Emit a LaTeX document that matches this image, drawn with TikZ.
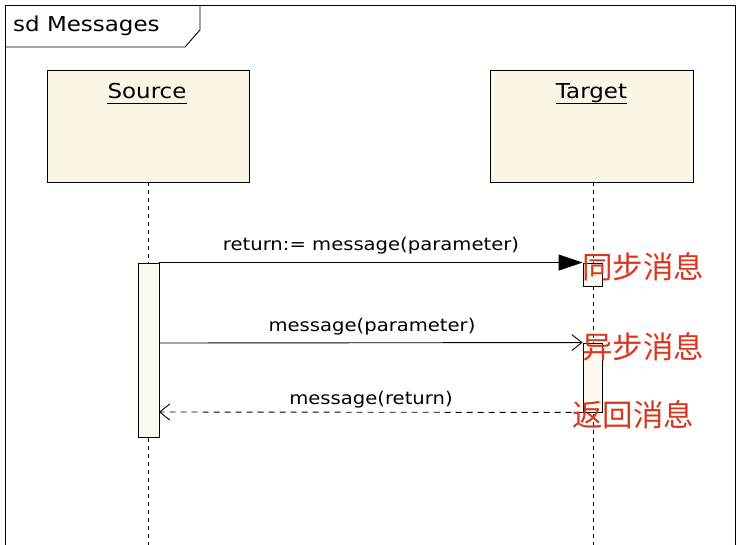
\documentclass[tikz,border=0pt]{standalone}
\usepackage{fontspec}
\setmainfont{DejaVu Sans}[FakeStretch=1.12]
\newfontfamily\cjk{Noto Sans CJK SC}
\usetikzlibrary{arrows.meta}
\definecolor{boxfill}{RGB}{250,245,228}
\definecolor{actfill}{RGB}{252,250,238}
\definecolor{notered}{RGB}{215,55,30}
\begin{document}
\begin{tikzpicture}[x=1pt,y=-1pt,
  obj/.style={draw=black,fill=boxfill,line width=0.9pt},
  act/.style={draw=black,fill=actfill,line width=0.9pt},
  life/.style={line width=0.9pt,dash pattern=on 4pt off 4pt},
  msg/.style={line width=0.9pt},
  lbl/.style={font=\fontsize{17.5}{19}\selectfont,anchor=base},
  note/.style={text=notered,font=\cjk\fontsize{30.5}{32}\selectfont,anchor=west,inner sep=0pt}]
\useasboundingbox (0,0) rectangle (738,545);
\fill[white] (0,0) rectangle (738,545);
\draw[line width=0.9pt] (5,548) -- (5,5) -- (735,5) -- (735,548);
\draw[line width=0.9pt] (5,47) -- (185,47) -- (200,30) -- (200,5);
\node[anchor=west,font=\fontsize{20.5}{22}\selectfont,inner sep=0pt] (title) at (13,26) {sd Messages};
\node[obj,minimum width=202pt,minimum height=112pt] (src) at (148,126) {};
\node[obj,minimum width=203pt,minimum height=112pt] (tgt) at (591.5,126) {};
\node[font=\fontsize{20.5}{22}\selectfont,anchor=base,inner sep=0pt] (srcl) at (147,99) {Source};
\node[font=\fontsize{20.5}{22}\selectfont,anchor=base,inner sep=0pt] (tgtl) at (591.5,99) {Target};
\draw[line width=0.9pt] (srcl.west |- 0,103) -- (srcl.east |- 0,103);
\draw[line width=0.9pt] (tgtl.west |- 0,103) -- (tgtl.east |- 0,103);
\coordinate (sEnd) at (148,548);
\coordinate (tEnd) at (593,548);
\draw[life] (148,182) -- (sEnd);
\draw[life] (593,182) -- (tEnd);
\node[act,minimum width=21pt,minimum height=174pt,inner sep=0pt] (sa) at (148.5,350) {};
\node[act,minimum width=19pt,minimum height=23pt,inner sep=0pt] (t1) at (592.5,274.5) {};
\node[act,minimum width=19pt,minimum height=69pt,inner sep=0pt] (t2) at (592.5,377.5) {};
\draw[msg,-{Triangle[length=24pt,width=16pt]}] (sa.north east) -- (t1.north west);
\draw[msg,-{Straight Barb[length=10pt,width=16pt]}] (159,343) -- (t2.north west);
\draw[msg,dash pattern=on 6pt off 5pt,-{Straight Barb[length=10pt,width=16pt,line width=0.9pt]}] (t2.south west) -- (159,412);
\node[lbl] (m1) at (371,251) {return:= message(parameter)};
\node[lbl] (m2) at (372,331) {message(parameter)};
\node[lbl] (m3) at (371,404) {message(return)};
\node[note] (n1) at (582,267) {同步消息};
\node[note] (n2) at (582,347) {异步消息};
\node[note] (n3) at (572,415) {返回消息};
\end{tikzpicture}
\end{document}
